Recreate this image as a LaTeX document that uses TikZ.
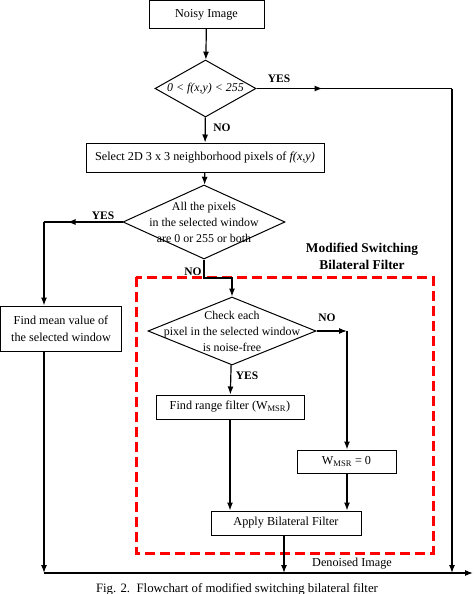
\documentclass[tikz,border=0pt]{standalone}
\usepackage{fontspec}
\setmainfont{Liberation Serif}
\usetikzlibrary{shapes.geometric, arrows.meta, decorations.markings}

\tikzset{
  box/.style={draw, line width=1pt, inner sep=0pt, font=\fontsize{12.2}{17}\selectfont},
  decision/.style={draw, diamond, line width=1pt, inner sep=0pt},
  txt/.style={align=center, inner sep=0pt, font=\fontsize{11.9}{16}\selectfont},
  lbl/.style={inner sep=0pt, font=\fontsize{11.5}{14}\selectfont\bfseries},
  flow/.style={line width=1.2pt, -{Latex[length=8pt,width=6pt]}},
  midarrow/.style={line width=1.2pt, postaction={decorate},
    decoration={markings, mark=at position #1 with {\arrow{Latex[length=8pt,width=6pt]}}}}
}

\begin{document}
\begin{tikzpicture}[x=1pt, y=-1pt]
    \useasboundingbox (0,0) rectangle (474,594);

    % Boxes
    \node[box, minimum width=115pt, minimum height=28pt] (noisy) at (206.5,14.5) {Noisy Image};
    \node[decision, minimum width=101pt, minimum height=57pt] (d1) at (205.5,88.5) {};
    \node[txt, font=\fontsize{11.9}{16}\selectfont\itshape] (d1t) at (d1) {0 < f(x,y) < 255};
    \node[box, minimum width=238pt, minimum height=29pt] (select) at (205,157.5)
        {Select 2D 3 x 3 neighborhood pixels of \textit{f(x,y)}};
    \node[decision, minimum width=162pt, minimum height=74pt] (d2) at (204,222) {};
    \node[txt] (d2t) at (d2) {All the pixels\\in the selected window\\are 0 or 255 or both};
    \node[box, minimum width=121pt, minimum height=45pt, align=center] (mean) at (61,328.5)
        {Find mean value of\\the selected window};

    % Modified switching bilateral filter
    \draw[red, line width=3pt, dash pattern=on 10pt off 5pt] (136,277) rectangle (433,553);
    \node[lbl, font=\fontsize{13.4}{17}\selectfont\bfseries, align=center] (msbf) at (362,256)
        {Modified Switching\\Bilateral Filter};
    \node[decision, minimum width=168pt, minimum height=68pt] (d3) at (232,331) {};
    \node[txt] (d3t) at (d3) {Check each\\pixel in the selected window\\is noise-free};
    \node[box, minimum width=148pt, minimum height=24pt] (range) at (230,407)
        {Find range filter (W\textsubscript{MSR})};
    \node[box, minimum width=99pt, minimum height=23pt] (wzero) at (346.5,461.5)
        {W\textsubscript{MSR} = 0};
    \node[box, minimum width=150pt, minimum height=24pt] (apply) at (286,523)
        {Apply Bilateral Filter};

    % Labels
    \node[lbl] (yes1) at (279,79) {YES};
    \node[lbl] (no1) at (222,128) {NO};
    \node[lbl] (yes2) at (103,216) {YES};
    \node[lbl] (no2) at (193,272) {NO};
    \node[lbl] (no3) at (327,318) {NO};
    \node[lbl] (yes3) at (247,376) {YES};
    \node[txt, font=\fontsize{12.2}{16}\selectfont] (denoised) at (352,564) {Denoised Image};

    % Corner points
    \coordinate (yescorner) at (452,88.5);
    \coordinate (rightend) at (452,573);
    \coordinate (leftcorner) at (44,222);
    \coordinate (leftend) at (44,573);
    \coordinate (nobend) at (204,278);
    \coordinate (nobend2) at (232,278);
    \coordinate (nocorner) at (347,331);
    \coordinate (outend) at (284,573);
    \coordinate (baseend) at (473,573);

    % Connectors
    \draw[flow] (noisy) -- (d1);
    \draw[flow] (d1) -- (select);
    \draw[midarrow=66pt] (d1.east) -- (yescorner);
    \draw[flow] (yescorner) -- (rightend);
    \draw[flow] (select) -- (d2);
    \draw[midarrow=55pt] (d2.west) -- (leftcorner);
    \draw[flow] (leftcorner) -- (leftcorner |- mean.north);
    \draw[flow] (mean.south -| leftend) -- (leftend);
    \draw[flow] (d2.south) -- (nobend) -- (nobend2) -- (d3.north);
    \draw[flow] (d3.east) -- (nocorner);
    \draw[flow] (nocorner) -- (wzero.north -| nocorner);
    \draw[flow] (d3) -- (range);
    \draw[flow] (range.south) -- (range.south |- apply.north);
    \draw[flow] (wzero.south -| nocorner) -- (nocorner |- apply.north);
    \draw[flow] (apply.south -| outend) -- (outend);
    \draw[flow] (leftend) -- (baseend);

    % Caption
    \node[anchor=base, inner sep=0pt, font=\fontsize{12.8}{15}\selectfont] (caption) at (237,592)
        {Fig. 2.\ \ Flowchart of modified switching bilateral filter};
\end{tikzpicture}
\end{document}
